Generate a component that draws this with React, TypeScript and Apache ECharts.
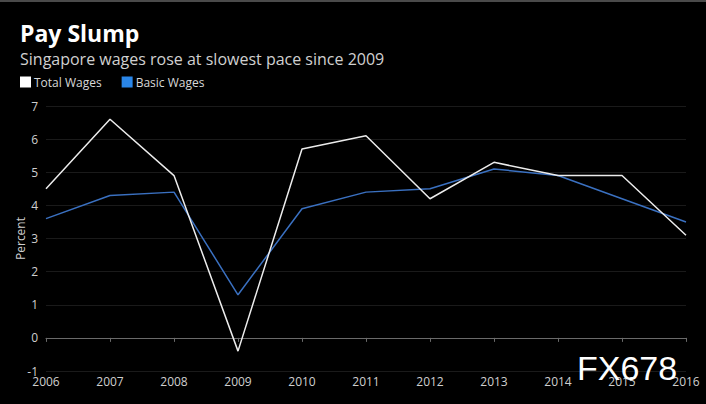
import React, { useEffect, useRef } from "react";
import * as echarts from "echarts";

const years = ["2006", "2007", "2008", "2009", "2010", "2011", "2012", "2013", "2014", "2015", "2016"];
const totalWages = [4.5, 6.6, 4.9, -0.4, 5.7, 6.1, 4.2, 5.3, 4.9, 4.9, 3.1];
const basicWages = [3.6, 4.3, 4.4, 1.3, 3.9, 4.4, 4.5, 5.1, 4.9, 4.2, 3.5];

const FONT = "'Open Sans', 'Noto Sans', sans-serif";

export default function App() {
  const ref = useRef<HTMLDivElement>(null);

  useEffect(() => {
    if (!ref.current) return;
    const chart = echarts.init(ref.current, null, { renderer: "svg" });
    chart.setOption({
      animation: false,
      backgroundColor: "#000000",
      textStyle: { fontFamily: FONT },
      title: {
        text: "Pay Slump",
        subtext: "Singapore wages rose at slowest pace since 2009",
        left: 15,
        top: 16,
        itemGap: 7,
        textStyle: { color: "#ffffff", fontSize: 23, fontWeight: "bold", fontFamily: FONT },
        subtextStyle: { color: "#d0d0d0", fontSize: 16, fontFamily: FONT },
      },
      legend: {
        left: 15,
        top: 71,
        icon: "rect",
        itemWidth: 11,
        itemHeight: 11,
        itemGap: 20,
        textStyle: { color: "#d8d8d8", fontSize: 12, fontFamily: FONT, padding: [0, 0, 0, -2] },
        data: [
          { name: "Total Wages", itemStyle: { color: "#ffffff" } },
          { name: "Basic Wages", itemStyle: { color: "#2a86e8" } },
        ],
      },
      grid: { left: 46, right: 20, top: 106, bottom: 33 },
      xAxis: {
        type: "category",
        data: years,
        boundaryGap: false,
        axisLine: { lineStyle: { color: "#6a6a6a", width: 1 } },
        axisTick: { show: true, length: 4, lineStyle: { color: "#6a6a6a" } },
        axisLabel: { color: "#cfcfcf", fontSize: 12, margin: 4, fontFamily: FONT },
        splitLine: { show: false },
      },
      yAxis: {
        type: "value",
        min: -1,
        max: 7,
        interval: 1,
        name: "Percent",
        nameLocation: "middle",
        nameGap: 20,
        nameMoveOverlap: false,
        nameTextStyle: { color: "#cfcfcf", fontSize: 12, fontFamily: FONT },
        axisLine: { show: false },
        axisTick: { show: false },
        axisLabel: { color: "#cfcfcf", fontSize: 12, margin: 8, fontFamily: FONT },
        splitLine: { lineStyle: { color: "#1a1a1a", width: 1 } },
      },
      series: [
        {
          name: "Total Wages",
          type: "line",
          data: totalWages,
          symbol: "none",
          lineStyle: { color: "#ececec", width: 1.5 },
          itemStyle: { color: "#ffffff" },
          z: 3,
        },
        {
          name: "Basic Wages",
          type: "line",
          data: basicWages,
          symbol: "none",
          lineStyle: { color: "#3a70c0", width: 1.5 },
          itemStyle: { color: "#2a86e8" },
          z: 2,
        },
      ],
      graphic: [
        {
          type: "rect",
          left: 0,
          top: 0,
          shape: { width: 706, height: 2 },
          style: { fill: "#4a4a4a" },
        },
        {
          type: "text",
          left: 577,
          top: 351,
          z: 10,
          style: {
            text: "FX678",
            fill: "#ffffff",
            font: "34px 'Liberation Sans', sans-serif",
          },
        },
      ],
    });
    return () => chart.dispose();
  }, []);

  return (
    <div
      ref={ref}
      style={{ position: "fixed", left: 0, top: 0, width: 706, height: 404 }}
    />
  );
}
